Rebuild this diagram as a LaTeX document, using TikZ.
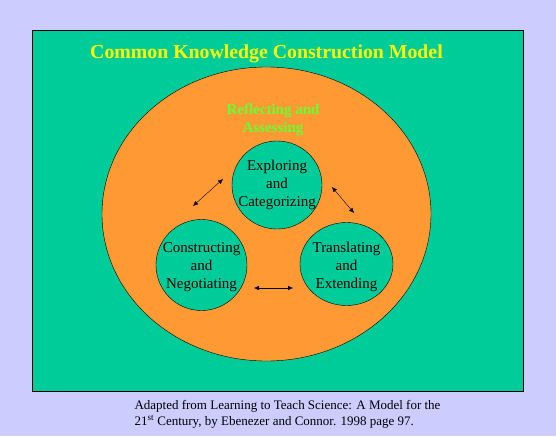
\documentclass[tikz,border=0pt]{standalone}
\usepackage{fontspec}
\setmainfont{Liberation Serif}
\usetikzlibrary{arrows.meta,shapes.geometric}

\definecolor{lavbg}{RGB}{204,204,255}
\definecolor{seagreen}{RGB}{0,204,153}
\definecolor{orangefill}{RGB}{255,153,51}
\definecolor{titleyellow}{RGB}{255,255,0}
\definecolor{limegreen}{RGB}{102,255,51}

\tikzset{
  stagecircle/.style={ellipse, draw=black, fill=seagreen, inner sep=0pt},
  stagetext/.style={align=center, inner sep=0pt, font=\fontsize{15}{18}\selectfont},
  linkarrow/.style={<->, >={Latex[length=5pt,width=4.5pt]}, thin}
}

\begin{document}
\begin{tikzpicture}[x=1pt, y=-1pt]
% Nền và khung
\fill[lavbg] (0,0) rectangle (556,436);
\useasboundingbox (0,0) rectangle (556,436);
\draw[fill=seagreen] (32,30) rectangle (523,391);

% Tiêu đề
\node[text=titleyellow, font=\fontsize{19.8}{22}\bfseries\selectfont] (title) at (266.5,54)
  {Common Knowledge Construction Model};

% Hình elip lớn
\draw[fill=orangefill] (266.5,214) ellipse [x radius=164.5, y radius=147];
\node[text=limegreen, align=center, font=\fontsize{15}{18}\bfseries\selectfont] (reflect) at (273,120)
  {Reflecting and\\Assessing};

% Ba vòng tròn
\node[stagecircle, minimum width=90pt, minimum height=88pt] (explore) at (277,185) {};
\node[stagecircle, minimum width=91pt, minimum height=91pt] (construct) at (201.5,265) {};
\node[stagecircle, minimum width=93pt, minimum height=83pt] (translate) at (346.5,264) {};

% Chữ trong vòng tròn
\node[stagetext] (exploretxt) at (explore) {Exploring\\and\\Categorizing};
\node[stagetext] (constructtxt) at ([yshift=-2pt]construct.center) {Constructing\\and\\Negotiating};
\node[stagetext] (translatetxt) at ([yshift=-3pt]translate.center) {Translating\\and\\Extending};

% Điểm đầu mút mũi tên
\coordinate (ce1) at (193,206);
\coordinate (ce2) at (223,179);
\coordinate (et1) at (332,187);
\coordinate (et2) at (354,213);
\coordinate (tc1) at (293,288);
\coordinate (tc2) at (254,288);

% Mũi tên hai chiều
\draw[linkarrow] (ce1) -- (ce2);
\draw[linkarrow] (et1) -- (et2);
\draw[linkarrow] (tc1) -- (tc2);

% Chú thích nguồn
\node[anchor=west, align=left, font=\fontsize{13}{16}\selectfont] (source) at (131,414)
  {Adapted from Learning to Teach Science: A Model for the\\
   21\textsuperscript{st} Century, by Ebenezer and Connor. 1998 page 97.};
\end{tikzpicture}
\end{document}
